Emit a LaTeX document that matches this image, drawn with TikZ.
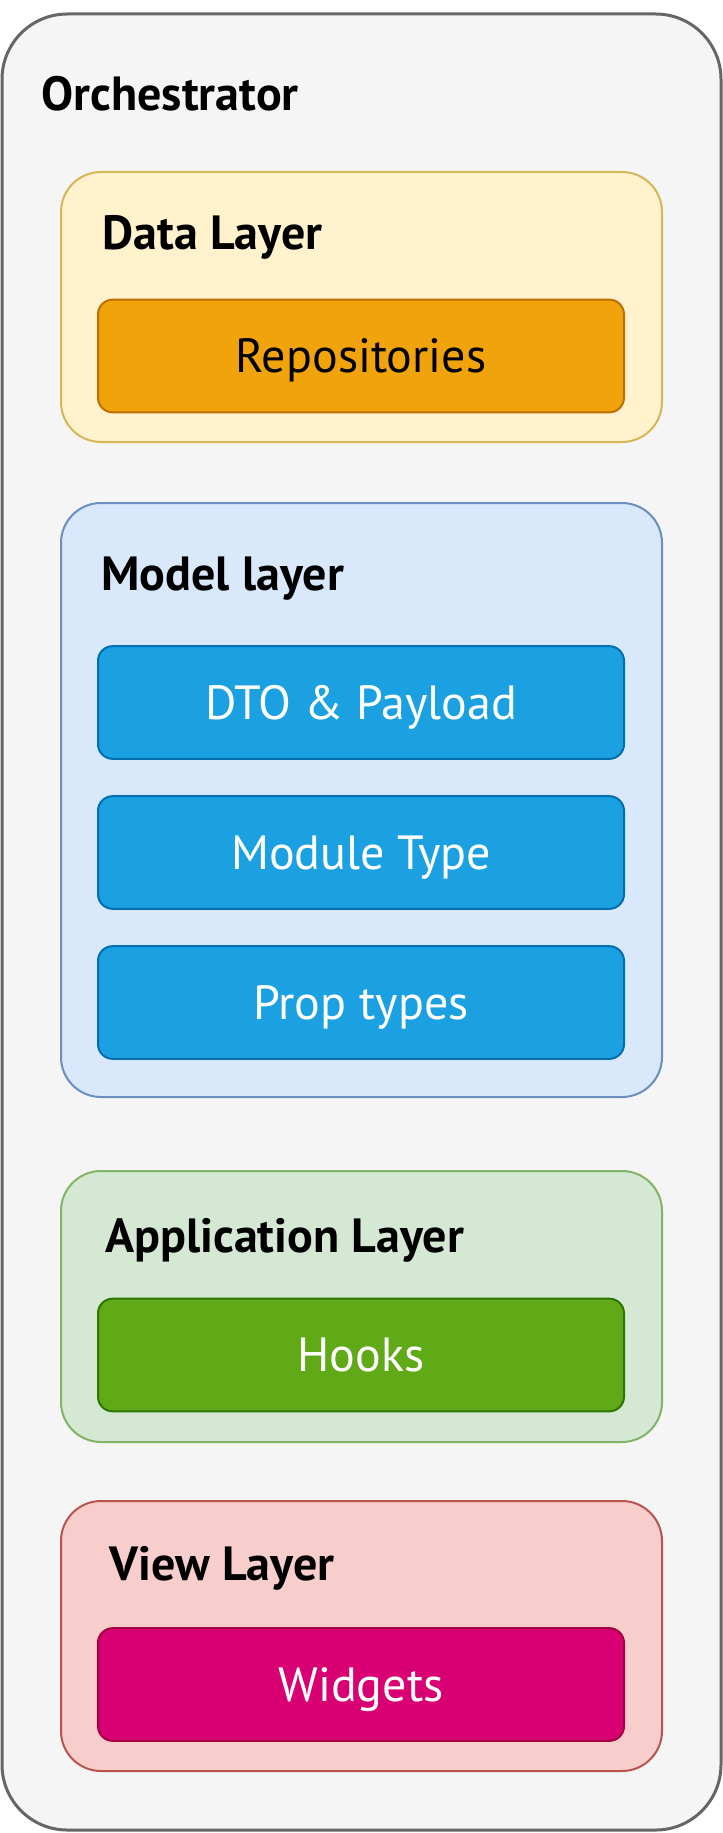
\documentclass[tikz,border=0pt]{standalone}
\usepackage{fontspec}
\setmainfont{PT Sans}

\definecolor{orchfill}{HTML}{F5F5F5}
\definecolor{orchline}{HTML}{666666}
\definecolor{datafill}{HTML}{FFF2CC}
\definecolor{dataline}{HTML}{D6B656}
\definecolor{repofill}{HTML}{F0A30A}
\definecolor{repoline}{HTML}{BD7000}
\definecolor{modelfill}{HTML}{DAE8FC}
\definecolor{modelline}{HTML}{6C8EBF}
\definecolor{typefill}{HTML}{1BA1E2}
\definecolor{typeline}{HTML}{006EAF}
\definecolor{appfill}{HTML}{D5E8D4}
\definecolor{appline}{HTML}{82B366}
\definecolor{hookfill}{HTML}{60A917}
\definecolor{hookline}{HTML}{2D7600}
\definecolor{viewfill}{HTML}{F8CECC}
\definecolor{viewline}{HTML}{B85450}
\definecolor{widgetfill}{HTML}{D80073}
\definecolor{widgetline}{HTML}{A50040}

\tikzset{every picture/.style={line width=0.75pt}}
\tikzset{
  layerbox/.style={rounded corners=30pt, line width=1.5pt},
  itembox/.style={rounded corners=11pt, line width=1.5pt, minimum width=394.5pt, minimum height=84.5pt, inner sep=0pt, text height=25pt, text depth=0pt, font=\fontsize{36}{42}\selectfont},
  titletext/.style={anchor=base west, inner sep=0pt, font=\fontsize{36}{42}\selectfont\bfseries},
}

\begin{document}
\begin{tikzpicture}[x=0.75pt,y=0.75pt,yscale=-1,xscale=1]
		\useasboundingbox (0,0) rectangle (723,1833);
		
		%Shape: Rounded Rect [id:orchestrator] 
		\draw [fill=orchfill, draw=orchline, line width=2.25pt, rounded corners=49pt] (2,14) rectangle (721,1830) ;
		\draw (41,111) node [titletext] (orchtitle) {Orchestrator};
		
		%Shape: Rounded Rect [id:datalayer] 
		\draw [layerbox, fill=datafill, draw=dataline] (61,172) rectangle (662,442) ;
		\draw (102,250) node [titletext] (datatitle) {Data Layer};
		\draw (361,356) node [itembox, fill=repofill, draw=repoline] (repos) {Repositories};
		
		%Shape: Rounded Rect [id:modellayer] 
		\draw [layerbox, fill=modelfill, draw=modelline] (61,503) rectangle (662,1097) ;
		\draw (101,590) node [titletext] (modeltitle) {Model layer};
		\draw (361,702.5) node [itembox, fill=typefill, draw=typeline, text=white] (dto) {DTO \& Payload};
		\draw (361,852.5) node [itembox, fill=typefill, draw=typeline, text=white] (moduletype) {Module Type};
		\draw (361,1002.5) node [itembox, fill=typefill, draw=typeline, text=white] (proptypes) {Prop types};
		
		%Shape: Rounded Rect [id:applayer] 
		\draw [layerbox, fill=appfill, draw=appline] (61,1171) rectangle (662,1442) ;
		\draw (105,1252) node [titletext] (apptitle) {Application Layer};
		\draw (361,1355) node [itembox, fill=hookfill, draw=hookline, text=white] (hooks) {Hooks};
		
		%Shape: Rounded Rect [id:viewlayer] 
		\draw [layerbox, fill=viewfill, draw=viewline] (61,1501) rectangle (662,1771) ;
		\draw (109,1580) node [titletext] (viewtitle) {View Layer};
		\draw (361,1684.5) node [itembox, fill=widgetfill, draw=widgetline, text=white] (widgets) {Widgets};
		
\end{tikzpicture}
\end{document}
